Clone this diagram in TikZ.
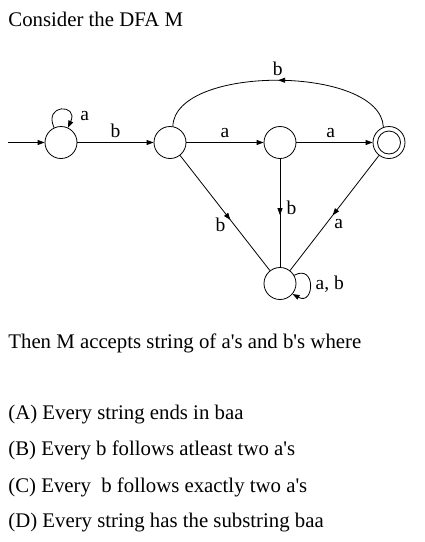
\documentclass[tikz,border=0pt]{standalone}
\usepackage{fontspec}
\setmainfont{Liberation Serif}
\usetikzlibrary{arrows.meta,decorations.markings}

\tikzstyle{every node}=[font=\fontsize{19.5}{23}\selectfont]
\tikzset{
  state/.style={draw, circle, minimum size=32pt, inner sep=0pt, line width=0.8pt},
  tip/.style={-{Triangle[length=7pt,width=5pt]}},
  midtip/.style={postaction={decorate}, decoration={markings,
      mark=at position #1 with {\arrow{Triangle[length=7pt,width=5pt]}}}},
  line/.style={anchor=base west, inner sep=0pt, font=\fontsize{20.8}{25}\selectfont},
}
\newcommand{\q}{\textquotesingle}

\begin{document}
\begin{tikzpicture}[x=1pt, y=-1pt, line width=0.8pt]
            \useasboundingbox (0,0) rectangle (425,542);

            % 题目
            \node[line] (title) at (8,26) {Consider the DFA M};

            % 状态
            \node[state] (q0) at (61,142.5) {};
            \node[state] (q1) at (170,142.5) {};
            \node[state] (q2) at (280,142.5) {};
            \node[state] (q3) at (389,142.5) {};
            \draw (q3) circle (11.5);
            \node[state] (q4) at (280,283.5) {};
            \coordinate (start) at (8,142.5);

            % 转移
            \draw[tip] (start) -- (q0);
            \draw[tip] (q0.115) .. controls +(-11,-24) and +(11,-24) .. node[pos=0.8, right=7pt] {a} (q0.65);
            \draw[tip] (q0) -- node[above=1pt] {b} (q1);
            \draw[tip] (q1) -- node[above=1pt] {a} (q2);
            \draw[tip] (q2) -- node[pos=0.45, above=1pt] {a} (q3);
            \draw[midtip=0.5] (q3.110) .. controls +(-3,-62) and +(2,-62) .. node[above=1pt] {b} (q1.80);
            \draw[midtip=0.56] (q1) -- node[pos=0.6, left=5pt] {b} (q4);
            \draw[midtip=0.52] (q2) -- node[pos=0.45, right=3pt] {b} (q4);
            \draw[midtip=0.52] (q3) -- node[pos=0.6, right=5pt] {a} (q4);
            \draw[tip] (q4.30) .. controls +(22,-12) and +(22,12) .. node[right=2pt] {a, b} (q4.-40);

            % 选项
            \node[line] (ask) at (8,348) {Then M accepts string of a\q s and b\q s where};
            \node[line] (optA) at (8,419) {(A) Every string ends in baa};
            \node[line] (optB) at (8,455) {(B) Every b follows atleast two a\q s};
            \node[line] (optC) at (8,492) {(C) Every\ \ b follows exactly two a\q s};
            \node[line] (optD) at (8,527) {(D) Every string has the substring baa};
        \end{tikzpicture}
\end{document}
